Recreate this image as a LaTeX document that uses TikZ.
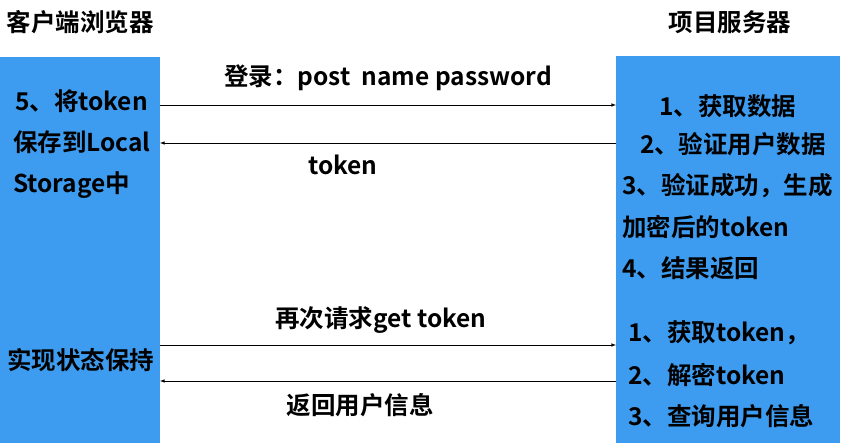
\documentclass[tikz,border=0pt]{standalone}
\usepackage{fontspec}
\setmainfont{Noto Sans CJK SC}[BoldFont={* Bold}]
\begin{document}
\begin{tikzpicture}[x=1pt,y=-1pt,
  lbl/.style={font=\fontsize{24.5}{28}\selectfont\bfseries,inner sep=0pt},
  box/.style={fill=blueA,draw=none},
  arr/.style={-latex,semithick}]
\definecolor{blueA}{HTML}{3D9CF0}
\useasboundingbox (0,0) rectangle (850,443);
\fill[white] (0,0) rectangle (850,443);
\node[box,minimum width=160,minimum height=386,anchor=north west,inner sep=0] (L) at (0,57) {};
\node[box,minimum width=224,minimum height=387,anchor=north west,inner sep=0] (R) at (616,56) {};
\node[lbl] (t1) at (80,22) {客户端浏览器};
\node[lbl] (t2) at (730,22) {项目服务器};
\coordinate (a1) at (160,105); \coordinate (b1) at (616,105);
\coordinate (a2) at (160,143); \coordinate (b2) at (616,143);
\coordinate (a3) at (160,345); \coordinate (b3) at (616,345);
\coordinate (a4) at (160,381); \coordinate (b4) at (616,381);
\draw[arr] (a1) -- (b1);
\draw[arr] (b2) -- (a2);
\draw[arr] (a3) -- (b3);
\draw[arr] (b4) -- (a4);
\node[lbl] (m1) at (388,78) {登录：post\ \ name password};
\node[lbl] (m2) at (343,165) {token};
\node[lbl] (m3) at (381,320) {再次请求get token};
\node[lbl] (m4) at (360,405) {返回用户信息};
\node[lbl,anchor=west] (l1) at (15,101) {5、将token};
\node[lbl,anchor=west] (l2) at (13,142) {保存到Local};
\node[lbl,anchor=west] (l3) at (13,185) {Storage中};
\node[lbl,anchor=west] (l4) at (7,360) {实现状态保持};
\node[lbl] (r1) at (728,106) {1、获取数据};
\node[lbl] (r2) at (733,144) {2、验证用户数据};
\node[lbl,anchor=west] (r3) at (622,186) {3、验证成功，生成};
\node[lbl,anchor=west] (r4) at (622,227) {加密后的token};
\node[lbl,anchor=west] (r5) at (622,268) {4、结果返回};
\node[lbl,anchor=west] (r6) at (628,333) {1、获取token，};
\node[lbl,anchor=west] (r7) at (628,375) {2、解密token};
\node[lbl,anchor=west] (r8) at (628,416) {3、查询用户信息};
\end{tikzpicture}
\end{document}
